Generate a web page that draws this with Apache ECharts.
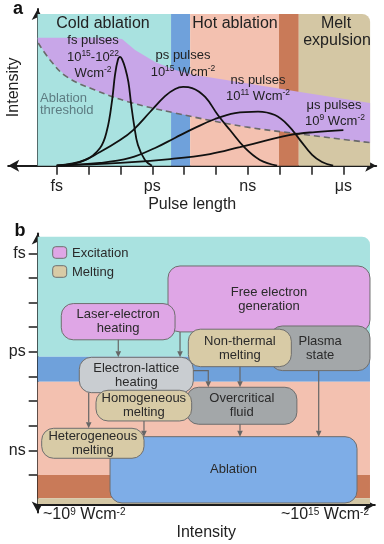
<!DOCTYPE html>
<html><head><meta charset="utf-8">
<script src="https://cdn.jsdelivr.net/npm/echarts@6/dist/echarts.min.js"></script>
<style>html,body{margin:0;padding:0;background:#fff}#c{width:384px;height:544px}</style>
</head><body><div id="c"></div>
<script>
// ---------- Panel a data (x: decades of pulse length, fs = 0; y: relative intensity) ----------
const pulseTicks = [0,1,2,3,4,5,6,7,8,9];
const pulseLabelValues = [0,3,6,9];
const pulseLabels = ['fs','ps','ns','μs'];
const regimeBounds = [-0.6, 3.59, 4.19, 6.98, 7.6, 9.84];
const regimeTop = 100;
const bandTop = [[-0.6,84.4],[1.67,84.4],[2.05,83.5],[2.46,76.3],[3.09,68.4],[3.72,63.1],[4.34,59.8],[5.91,54.5],[7.64,48.6],[9.84,41.3]];
const threshold = [[-0.58,80.9],[-0.21,69.7],[0.31,58.7],[1.2,49.9],[2.24,42.2],[3.72,34.7],[5.91,25.7],[7.64,20.9],[9.84,15.2]];
const fsPulse = [[0,0],[0.89,3.8],[1.36,11.7],[1.58,23.5],[1.74,43.3],[1.83,59.8],[1.92,69.7],[1.99,71.7],[2.05,70.3],[2.15,64.4],[2.25,55.2],[2.34,40],[2.43,26.8],[2.55,13.6],[2.77,3.8],[2.99,0]];
const psPulse = [[0,0],[0.73,2.4],[1.36,9],[1.99,16.9],[2.4,23.5],[2.93,35.4],[3.4,45.9],[3.72,50.6],[3.97,51.9],[4.25,51.2],[4.66,45.3],[5.06,33.4],[5.44,23.5],[5.91,11.7],[6.38,3.8],[6.92,0]];
const nsPulse = [[0,0],[1.36,1.8],[2.3,5.1],[3.09,11.7],[3.71,18.3],[4.34,24.9],[4.97,30.8],[5.6,34.7],[6.32,35.7],[6.85,33.4],[7.26,26.8],[7.64,16.9],[8.02,7.1],[8.33,2.4],[8.68,0]];
const usPulse = [[0,0],[1.99,1.8],[3.56,4.4],[4.81,7.7],[5.75,12.3],[6.53,16.3],[7.3,20.2],[8.11,22.2],[9,23.5]];

// ---------- Panel b data (x: log10 intensity W/cm2; y: decades of time, fs = 0) ----------
const timeTicks = [0,1,2,3,4,5,6,7,8,9];
const timeLabelValues = [0,4,8];
const timeLabels = ['fs','ps','ns'];
const bandTime = [[-0.673,4.195],[4.195,5.209],[5.209,8.994],[8.994,9.94],[9.94,10.17]];
const bandIntensity = [9,15];
const boxLabels = ['Free electron\ngeneration','Laser-electron\nheating','Plasma\nstate','Non-thermal\nmelting','Electron-lattice\nheating','Overcritical\nfluid','Homogeneous\nmelting','Ablation','Heterogeneous\nmelting'];
const boxIntensity = [[11.353,15.0],[9.426,11.48],[13.2,15.0],[11.72,13.58],[9.751,11.81],[11.69,13.68],[10.053,11.78],[10.306,14.766],[9.072,10.92]];
const boxTime = [[0.515,3.19],[2.04,3.51],[2.95,4.76],[3.08,4.6],[4.22,5.655],[5.436,6.937],[5.558,6.803],[7.44,10.13],[7.1,8.317]];
const boxKind = ['excitation','excitation','plasma','melting','heating','plasma','melting','ablation','melting'];
const arrowPaths = [
  [[10.455,3.51],[10.455,4.22]],
  [[11.57,3.19],[11.57,4.22]],
  [[11.81,4.763],[12.08,4.763],[12.08,5.436]],
  [[12.653,4.6],[12.653,5.436]],
  [[9.921,5.655],[9.921,7.1]],
  [[10.919,6.803],[10.919,7.44]],
  [[12.653,6.937],[12.653,7.44]],
  [[14.074,4.763],[14.074,7.44]]
];

// ---------- styles ----------
const FONT = 'Liberation Sans, Arial, Helvetica, sans-serif';
const INK = '#1c1c1c';
const regimeColors = ['#A9E2E0','#6FA1DB','#F3C1B0','#C97A58','#D4C7A4'];
const bandColors = ['#A9E2E0','#6FA1DB','#F3C1B0','#C97A58','#D4C7A4'];
const kindColors = {excitation:'#DFA6E6', melting:'#D8CBA6', heating:'#C9CDD1', plasma:'#A3A7A9', ablation:'#7EADE7'};

const chart = echarts.init(document.getElementById('c'), null, {renderer:'canvas', width:384, height:544});

function txt(x, y, text, o) {
  o = o || {};
  return {type:'text', x:x, y:y, z:100, silent:true, style:{
    text:text, fontSize:o.size||13, fontFamily:FONT, fontWeight:o.weight||'normal',
    fill:o.color||'#222', align:o.align||'center', verticalAlign:'middle', lineHeight:o.lh||16,
    rich:{s:{fontSize:o.sup||8.5, verticalAlign:'top', fill:o.color||'#222', fontFamily:FONT, lineHeight:9}}
  }};
}

const axisLineStyle = {color:INK, width:2};

const option = {
  animation:false,
  grid:[
    {left:8.2, top:9, width:368, height:156.7, outerBoundsMode:'none', containLabel:false},
    {left:37.7, top:233.5, width:337.1, height:279, outerBoundsMode:'none', containLabel:false}
  ],
  xAxis:[
    {type:'value', gridIndex:0, min:-1.523, max:10.031,
     axisLine:{show:true, onZero:false, symbol:['arrow','arrow'], symbolSize:[9,11], lineStyle:axisLineStyle},
     axisTick:{show:true, customValues:pulseTicks, length:9, lineStyle:{color:INK, width:1.5}},
     axisLabel:{show:true, customValues:pulseLabelValues, formatter:v=>pulseLabels[pulseLabelValues.indexOf(Math.round(v))]||'', fontSize:16, color:'#222', margin:13, fontFamily:FONT},
     splitLine:{show:false},
     name:'Pulse length', nameLocation:'middle', nameGap:31, nameTextStyle:{fontSize:16, color:'#222', fontFamily:FONT}},
    {type:'value', gridIndex:1, min:9, max:15.087, offset:-7.5,
     axisLine:{show:true, onZero:false, symbol:['none','arrow'], symbolSize:[9,11], lineStyle:axisLineStyle},
     axisTick:{show:false}, axisLabel:{show:false}, splitLine:{show:false},
     name:'Intensity', nameLocation:'middle', nameGap:20, nameTextStyle:{fontSize:16, color:'#222', fontFamily:FONT}}
  ],
  yAxis:[
    {type:'value', gridIndex:0, min:0, max:103.3, offset:-29.5,
     axisLine:{show:true, onZero:false, symbol:['none','arrow'], symbolSize:[9,11], lineStyle:axisLineStyle},
     axisTick:{show:false}, axisLabel:{show:false}, splitLine:{show:false},
     name:'Intensity', nameLocation:'middle', nameGap:16, nameRotate:90, nameTextStyle:{fontSize:16, color:'#222', fontFamily:FONT}},
    {type:'value', gridIndex:1, inverse:true, min:-0.803, max:10.517,
     axisLine:{show:true, onZero:false, symbol:['arrow','arrow'], symbolSize:[9,11], lineStyle:axisLineStyle},
     axisTick:{show:true, customValues:timeTicks, length:9, lineStyle:{color:INK, width:1.5}},
     axisLabel:{show:true, customValues:timeLabelValues, formatter:v=>timeLabels[timeLabelValues.indexOf(Math.round(v))]||'', fontSize:16, color:'#222', margin:12, fontFamily:FONT},
     splitLine:{show:false}}
  ],
  series:[
    {type:'custom', xAxisIndex:0, yAxisIndex:0, z:1, silent:true,
     data: regimeColors.map((c,i)=>[regimeBounds[i], regimeBounds[i+1]]),
     renderItem:(params, api)=>{
       const i = params.dataIndex;
       const p0 = api.coord([api.value(0), regimeTop]);
       const p1 = api.coord([api.value(1), 0]);
       return {type:'rect', shape:{x:p0[0], y:p0[1], width:p1[0]-p0[0], height:p1[1]-p0[1], r: i===regimeColors.length-1?[0,8,0,0]:0}, style:{fill:regimeColors[i]}};
     }},
    {type:'custom', xAxisIndex:0, yAxisIndex:0, z:2, silent:true, data:[[0,0]],
     renderItem:(params, api)=>{
       const pts = bandTop.map(p=>api.coord(p)).concat(threshold.slice().reverse().map(p=>api.coord(p)));
       return {type:'polygon', shape:{points:pts}, style:{fill:'#C8A6E8'}};
     }},
    {type:'line', xAxisIndex:0, yAxisIndex:0, z:3, data:threshold, smooth:0.4, symbol:'none', silent:true,
     lineStyle:{color:'#6a6a6a', width:1.6, type:[6,4]}},
    {type:'line', xAxisIndex:0, yAxisIndex:0, z:4, data:usPulse, smooth:0.4, symbol:'none', silent:true, lineStyle:{color:'#111', width:1.8}},
    {type:'line', xAxisIndex:0, yAxisIndex:0, z:4, data:nsPulse, smooth:0.4, symbol:'none', silent:true, lineStyle:{color:'#111', width:1.8}},
    {type:'line', xAxisIndex:0, yAxisIndex:0, z:4, data:psPulse, smooth:0.4, symbol:'none', silent:true, lineStyle:{color:'#111', width:1.8}},
    {type:'line', xAxisIndex:0, yAxisIndex:0, z:4, data:fsPulse, smooth:0.4, symbol:'none', silent:true, lineStyle:{color:'#111', width:1.8}},
    {type:'custom', xAxisIndex:1, yAxisIndex:1, z:1, silent:true,
     data: bandTime.map(b=>[bandIntensity[0], bandIntensity[1], b[0], b[1]]),
     renderItem:(params, api)=>{
       const i = params.dataIndex;
       const p0 = api.coord([api.value(0), api.value(2)]);
       const p1 = api.coord([api.value(1), api.value(3)]);
       return {type:'rect', shape:{x:p0[0], y:p0[1], width:p1[0]-p0[0], height:p1[1]-p0[1], r: i===0?[0,8,0,0]:0}, style:{fill:bandColors[i]}};
     }},
    {type:'custom', xAxisIndex:1, yAxisIndex:1, z:3, silent:true,
     data: boxIntensity.map((b,i)=>[b[0], b[1], boxTime[i][0], boxTime[i][1]]),
     renderItem:(params, api)=>{
       const i = params.dataIndex;
       const p0 = api.coord([api.value(0), api.value(2)]);
       const p1 = api.coord([api.value(1), api.value(3)]);
       return {type:'group', children:[
         {type:'rect', shape:{x:p0[0], y:p0[1], width:p1[0]-p0[0], height:p1[1]-p0[1], r:12},
          style:{fill:kindColors[boxKind[i]], stroke:'#6e6e6e', lineWidth:1}},
         {type:'text', style:{text:boxLabels[i], x:(p0[0]+p1[0])/2, y:(p0[1]+p1[1])/2, align:'center', verticalAlign:'middle',
          fontSize:13, lineHeight:14, fill:'#2a2a2a', fontFamily:FONT}}
       ]};
     }},
    {type:'custom', xAxisIndex:1, yAxisIndex:1, z:4, silent:true,
     data: arrowPaths.map((p,i)=>[p[0][0], p[0][1], i]),
     renderItem:(params, api)=>{
       const path = arrowPaths[params.dataIndex].map(p=>api.coord(p));
       const n = path.length;
       const tip = path[n-1], prev = path[n-2];
       const dx = tip[0]-prev[0], dy = tip[1]-prev[1];
       const L = Math.hypot(dx,dy), ux = dx/L, uy = dy/L;
       const hl = 6, hw = 2.8;
       const base = [tip[0]-ux*hl, tip[1]-uy*hl];
       const line = path.slice(0, n-1).concat([base]);
       return {type:'group', children:[
         {type:'polyline', shape:{points:line}, style:{stroke:'#666', lineWidth:1.2, fill:null}},
         {type:'polygon', shape:{points:[tip, [base[0]-uy*hw, base[1]+ux*hw], [base[0]+uy*hw, base[1]-ux*hw]]}, style:{fill:'#666'}}
       ]};
     }}
  ],
  graphic:[
    txt(18, 9, 'a', {size:18, weight:'bold', color:'#111'}),
    txt(20, 231, 'b', {size:18, weight:'bold', color:'#111'}),
    txt(103, 24, 'Cold ablation', {size:16}),
    txt(235, 24, 'Hot ablation', {size:16}),
    txt(336, 24, 'Melt', {size:16}),
    txt(337, 41, 'expulsion', {size:16}),
    txt(93, 40, 'fs pulses'),
    txt(93, 57, '10{s|15}-10{s|22}'),
    txt(93, 73, 'Wcm{s|-2}'),
    txt(183, 55, 'ps pulses'),
    txt(183, 72, '10{s|15} Wcm{s|-2}'),
    txt(258, 80, 'ns pulses'),
    txt(258, 96, '10{s|11} Wcm{s|-2}'),
    txt(334, 105, 'μs pulses'),
    txt(335, 121, '10{s|9} Wcm{s|-2}'),
    txt(40, 98, 'Ablation', {align:'left', color:'#5d7c82'}),
    txt(40, 110, 'threshold', {align:'left', color:'#5d7c82'}),
    {type:'rect', z:100, silent:true, shape:{x:52.7, y:246.7, width:14, height:11.6, r:3}, style:{fill:kindColors.excitation, stroke:'#6e6e6e', lineWidth:1}},
    {type:'rect', z:100, silent:true, shape:{x:52.7, y:265.7, width:14, height:11.6, r:3}, style:{fill:kindColors.melting, stroke:'#6e6e6e', lineWidth:1}},
    txt(72, 253, 'Excitation', {align:'left', color:'#2a2a2a'}),
    txt(72, 272, 'Melting', {align:'left', color:'#2a2a2a'}),
    txt(43, 515, '~10{s|9} Wcm{s|-2}', {align:'left', size:16, sup:10}),
    txt(369, 515, '~10{s|15} Wcm{s|-2}', {align:'right', size:16, sup:10})
  ]
};
chart.setOption(option);
</script>
</body></html>
